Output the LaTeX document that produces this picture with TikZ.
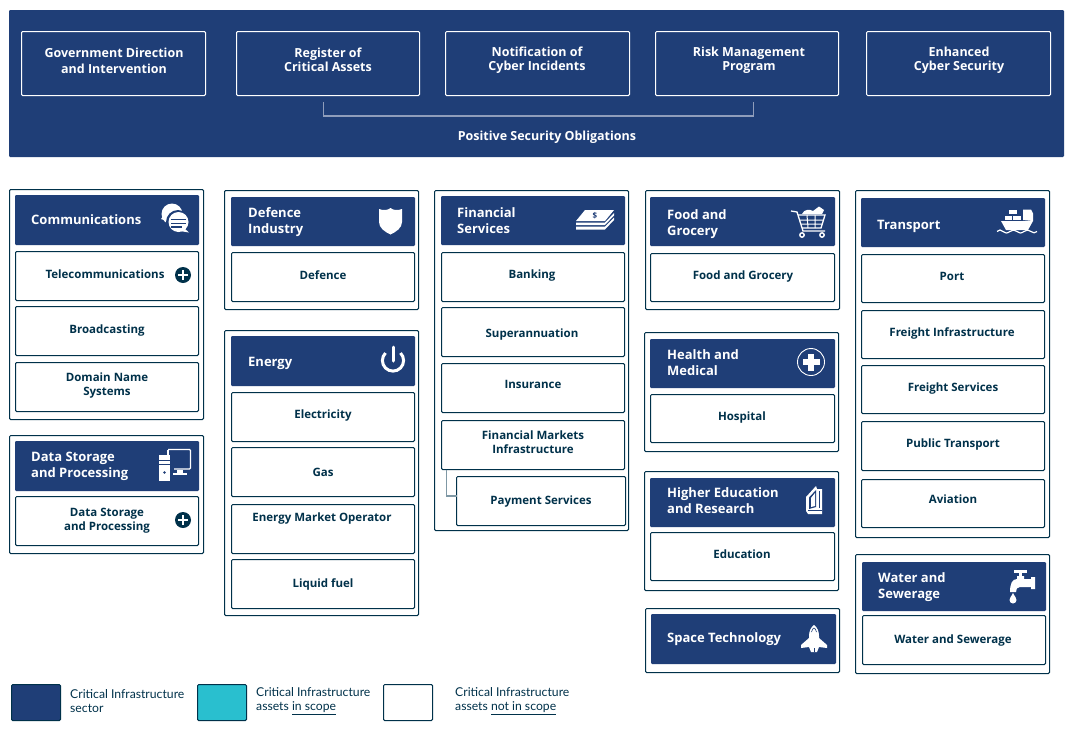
\documentclass[tikz,border=0pt]{standalone}
\usepackage{fontspec}
\setmainfont{Lato}
\newfontfamily\hvy{Open Sans}
\definecolor{navy}{HTML}{1F3E77}
\definecolor{ink}{HTML}{00314A}
\definecolor{teal2}{HTML}{29BFCF}
\definecolor{brk}{HTML}{8F9DBB}
\definecolor{lnk}{HTML}{7F98A5}
\newcommand{\boxat}[6]{%
 \pgfmathsetmacro\bw{#5-#3}\pgfmathsetmacro\bh{#6-#4}%
 \node[minimum width=\bw pt,minimum height=\bh pt,#1] (#2) at ({(#3+#5)/2},{(#4+#6)/2}) {};}
\newcommand{\outerbox}[5]{\boxat{outerb}{#1}{#2}{#3}{#4}{#5}}
\newcommand{\head}[8]{\boxat{headb}{#1}{#2}{#3}{#4}{#5}\node[headt] (#1t) at (#6,#7) {#8};}
\newcommand{\cell}[8]{\boxat{cellb}{#1}{#2}{#3}{#4}{#5}\node[cellt] (#1t) at (#6,#7) {#8};}
\newcommand{\topb}[8]{\boxat{topbox}{#1}{#2}{#3}{#4}{#5}\node[topt] (#1t) at (#6,#7) {#8};}
\newcommand{\plusmark}[3]{\node[plusdot] (#1) at (#2,#3) {};\draw[white,line width=1.5pt] (#2-5,#3)--(#2+5,#3) (#2,#3-5)--(#2,#3+5);}
\tikzset{
 base/.style={inner sep=0pt,outer sep=0pt,rounded corners=1.2pt},
 crisp/.style={minimum width=\bw pt-1pt,minimum height=\bh pt-1pt},
 outerb/.style={base,crisp,draw=ink,line width=1pt,fill=white},
 headb/.style={base,fill=navy},
 cellb/.style={base,crisp,draw=ink,line width=1pt,fill=white},
 topbox/.style={base,crisp,draw=white,line width=1pt,fill=navy},
 headt/.style={anchor=west,align=left,text=white,inner sep=0pt,yshift=-.5pt,font=\fontsize{13}{16}\selectfont\hvy\bfseries},
 cellt/.style={align=center,text=ink,inner sep=0pt,yshift=-.5pt,font=\fontsize{11.5}{14.2}\selectfont\hvy\bfseries},
 topt/.style={align=center,text=white,inner sep=0pt,yshift=-.5pt,font=\fontsize{12.5}{14}\selectfont\hvy\bfseries},
 legt/.style={anchor=west,align=left,text=ink,inner sep=0pt,yshift=-.5pt,font=\fontsize{12.2}{14}\selectfont},
 plusdot/.style={circle,fill=ink,minimum size=16pt,inner sep=0pt},
}
\begin{document}
\begin{tikzpicture}[x=1pt,y=-1pt]
\useasboundingbox (0,0) rectangle (1073,739);
% banner
\boxat{base,fill=navy}{banner}{9}{10}{1064}{157}
\topb{t1}{21}{31}{206}{96}{114}{60}{Government Direction\\[2pt]and Intervention}
\topb{t2}{236}{31}{420}{96}{328}{59.5}{Register of\\Critical Assets}
\topb{t3}{445}{31}{630}{96}{537}{59.5}{Notification of\\Cyber Incidents}
\topb{t4}{655}{31}{839}{96}{749}{59.5}{Risk Management\\Program}
\topb{t5}{866}{31}{1051}{96}{959}{59.5}{Enhanced\\Cyber Security}
\coordinate (brL) at (323.5,102);
\coordinate (brR) at (753.5,102);
\draw[brk,line width=1.3pt] (brL) -- ++(0,14) -| (brR);
\node[topt] (pso) at (547,136.5) {Positive Security Obligations};
% column 1
\outerbox{o1}{9}{189}{204}{420}
\head{h1}{15}{195}{199}{245}{31}{219}{Communications}
\cell{c11}{15}{251}{199}{301}{105}{274}{Telecommunications}
\plusmark{p1}{183}{275}
\cell{c12}{15}{306}{199}{356}{107}{330}{Broadcasting}
\cell{c13}{15}{362}{199}{412}{107}{385}{Domain Name\\Systems}
\outerbox{o2}{9}{435}{204}{554}
\head{h2}{15}{441}{199}{491}{31}{466}{Data Storage\\and Processing}
\cell{c21}{15}{496}{199}{546}{107}{520}{Data Storage\\and Processing}
\plusmark{p2}{183}{520}
% column 2
\outerbox{o3}{224}{190}{419}{310}
\head{h3}{231}{197}{415}{246}{248}{222}{Defence\\Industry}
\cell{c31}{231}{252}{415}{302}{323}{274.5}{Defence}
\outerbox{o4}{224}{330}{419}{616}
\head{h4}{231}{336}{415}{386}{248}{363}{Energy}
\cell{c41}{231}{392}{415}{442}{323}{415.5}{Electricity}
\cell{c42}{231}{447}{415}{497}{323}{472}{Gas}
\cell{c43}{231}{504}{415}{554}{322}{518}{Energy Market Operator}
\cell{c44}{231}{559}{415}{609}{323}{583.5}{Liquid fuel}
% column 3
\outerbox{o5}{434}{190}{629}{531}
\head{h5}{441}{196}{625}{245}{457}{220}{Financial\\Services}
\cell{c51}{441}{252}{625}{302}{532}{275.5}{Banking}
\cell{c52}{441}{307}{625}{357}{532}{334}{Superannuation}
\cell{c53}{441}{363}{625}{413}{533}{384}{Insurance}
\cell{c54}{441}{420}{625}{470}{533}{442}{Financial Markets\\Infrastructure}
\cell{c55}{456}{476}{626}{526}{541}{501}{Payment Services}
\draw[lnk,line width=1.3pt] ([xshift=5pt]c54.south west) |- ([yshift=5pt]c55.west);
% column 4
\outerbox{o6}{645}{190}{840}{310}
\head{h6}{650}{197}{835}{246}{667}{224}{Food and\\Grocery}
\cell{c61}{650}{253}{835}{302}{743}{276.5}{Food and Grocery}
\outerbox{o7}{644}{332}{839}{452}
\head{h7}{650}{339}{835}{388}{667}{362}{Health and\\Medical}
\cell{c71}{650}{394}{835}{443}{742}{417.5}{Hospital}
\outerbox{o8}{644}{471}{839}{591}
\head{h8}{650}{478}{835}{527}{667}{500}{Higher Education\\and Research}
\cell{c81}{650}{532}{835}{581}{742}{554}{Education}
\outerbox{o9}{645}{608}{840}{673}
\head{h9}{651}{614}{836}{664}{667}{639}{Space Technology}
% column 5
\outerbox{o10}{855}{190}{1050}{538}
\head{h10}{861}{198}{1045}{247}{877}{226}{Transport}
\cell{c101}{861}{254}{1045}{303}{952}{276}{Port}
\cell{c102}{861}{310}{1045}{359}{952}{332.5}{Freight Infrastructure}
\cell{c103}{861}{365}{1045}{414}{953}{388.5}{Freight Services}
\cell{c104}{861}{421}{1045}{471}{953}{444.5}{Public Transport}
\cell{c105}{861}{479}{1045}{528}{953}{499}{Aviation}
\outerbox{o11}{855}{554}{1050}{674}
\head{h11}{862}{562}{1046}{611}{878}{587}{Water and\\Sewerage}
\cell{c111}{862}{615}{1046}{665}{953}{640}{Water and Sewerage}
% legend
\boxat{base,crisp,draw=ink,line width=1pt,fill=navy}{l1}{11}{684}{61}{721}
\node[legt] (l1t) at (70,701) {Critical Infrastructure\\sector};
\boxat{base,crisp,draw=ink,line width=1pt,fill=teal2}{l2}{197}{684}{247}{721}
\node[legt] (l2t) at (256,701) {Critical Infrastructure\\assets \underline{in scope}};
\boxat{base,crisp,draw=ink,line width=1pt,fill=white}{l3}{383}{684}{433}{721}
\node[legt] (l3t) at (455,700.5) {Critical Infrastructure\\assets \underline{not in scope}};
% --- icons ---
% speech bubbles
\fill[white] (172,214) circle (10.5);
\fill[white] (161,219) -- (166,212) -- (170,222) -- cycle;
\fill[navy] (178,222) circle (12);
\fill[white] (178.5,222) circle (10);
\fill[white] (184,228) -- (189,232.5) -- (180,231) -- cycle;
\draw[navy,line width=1.4pt] (171,219.5)--(186,219.5) (171,223.5)--(186,223.5);
\draw[navy,line width=1.2pt] (171,227)--(182,227);
% computer
\draw[white,line width=1.2pt,rounded corners=1pt] (168,449.5) -- (190.5,449.5) -- (190.5,469) -- (174,469);
\draw[white,line width=1.2pt] (168,449.5) -- (168,455);
\fill[white] (177,470) rectangle (183,472.5);
\fill[white] (173,472.5) rectangle (187,474.5);
\fill[white] (159,455) -- (170,455) -- (170,481) -- (159,481) -- cycle;
\draw[navy,line width=.9pt] (159,460)--(170,460) (159,464)--(170,464);
\fill[navy] (164.5,472.5) circle (1.4);
% shield
\fill[white] (379,209) .. controls (384,211) and (388,210) .. (390.5,208) .. controls (393,210) and (397,211) .. (402,209) -- (402,222) .. controls (402,228) and (396,232) .. (390.5,234.5) .. controls (385,232) and (379,228) .. (379,222) -- cycle;
% power
\draw[white,line width=3pt] (385.5,353) arc[start angle=225,end angle=-45,radius=10.6];
\draw[white,line width=3pt,line cap=round] (393,347) -- (393,361);
% money stack
\fill[white] (585,210) -- (614,210) -- (605,221) -- (576,221) -- cycle;
\fill[white] (576,222.5) -- (605,222.5) -- (614,213) -- (614,215.5) -- (605,225) -- (576,225) -- cycle;
\fill[white] (576,226.5) -- (605,226.5) -- (614,217.5) -- (614,220) -- (605,229.5) -- (576,229.5) -- cycle;
\node[text=navy,inner sep=0pt,font=\fontsize{8}{8}\selectfont\hvy\bfseries] (dollar) at (595,215.5) {\$};
% cart
\draw[white,line width=1.3pt] (791,211) -- (797,212) -- (803,231) -- (825,231);
\draw[white,line width=1.3pt] (798,215) -- (825,215) -- (821,228) -- (802,228);
\draw[white,line width=1pt] (799.5,220) -- (823.5,220) (801,224) -- (822.5,224) (807,215)--(808,228) (815,215)--(815,228);
\fill[white] (802,214) .. controls (804,209) and (810,209) .. (813,211) -- (819,206.5) -- (824,210) -- (822,214) -- cycle;
\draw[white,line width=1.4pt] (802,235) circle (2.2) (822,235) circle (2.2);
% ship
\fill[white] (1023,220) -- (1023,209.5) -- (1031,209.5) -- (1033,213.5) -- (1033,221) -- cycle;
\fill[white] (1001,221) -- (1033,221) -- (1028,230) -- (1006,230) -- cycle;
\fill[white] (1005,215.5) rectangle (1012,219.5);
\fill[white] (1013,215.5) rectangle (1021,219.5);
\fill[white] (1009,210) rectangle (1017,214);
\draw[white,line width=1.2pt] (997,231.5) .. controls (999,229.5) and (1001,229.5) .. (1003,231.5) .. controls (1005,233.5) and (1007,233.5) .. (1010,231.5) .. controls (1012,229.5) and (1015,229.5) .. (1017,231.5) .. controls (1019,233.5) and (1021,233.5) .. (1024,231.5) .. controls (1026,229.5) and (1029,229.5) .. (1031,231.5) .. controls (1033,233.5) and (1035,233) .. (1037,231.5);
% medical
\draw[white,line width=.9pt] (811,362) circle (13.5);
\fill[white] (808,353.5) rectangle (814,370.5);
\fill[white] (802.5,359) rectangle (819.5,365);
% book
\fill[white] (806,497) -- (816,486) -- (817,489) -- (822,489) -- (822,514) -- (808,514) -- (806,511) -- cycle;
\fill[navy] (809,497.5) -- (816,490) -- (816,507) -- (809,509) -- cycle;
\fill[white] (811,498) -- (815,493) -- (815,506) -- (811,507) -- cycle;
\fill[navy] (819,491) rectangle (820,508);
\draw[navy,line width=.8pt] (808,510.5) -- (822,510.5);
% plane
\fill[white] (814,625) .. controls (817,627) and (819,631) .. (819,636) -- (819,638) -- (827,645) -- (827,648) -- (819,647) -- (817,652) -- (811,652) -- (809,647) -- (801,648) -- (801,645) -- (809,638) -- (809,636) .. controls (809,631) and (811,627) .. (814,625) -- cycle;
\draw[navy,line width=.6pt] (811.5,632) .. controls (812,629.5) and (813,628.5) .. (814,628) .. controls (815,628.5) and (816,629.5) .. (816.5,632);
\draw[navy,line width=.6pt] (814,648)--(814,652);
% tap
\fill[white] (1014,570) rectangle (1027,572.5);
\fill[white] (1019,572) rectangle (1022,576);
\fill[white] (1017,576) -- (1024,576) -- (1024,579) -- (1031,579) -- (1031,577) -- (1035,577) -- (1035,589) -- (1031,589) -- (1031,587) -- (1020,587) .. controls (1017,587) and (1016,589) .. (1016,592) -- (1010,592) .. controls (1010,584) and (1012,579) .. (1017,579) -- cycle;
\fill[white] (1013,593) .. controls (1015,597) and (1016.5,598) .. (1016.5,600) arc[start angle=0,end angle=180,radius=3.5] .. controls (1009.5,598) and (1011,597) .. (1013,593) -- cycle;
\end{tikzpicture}
\end{document}
